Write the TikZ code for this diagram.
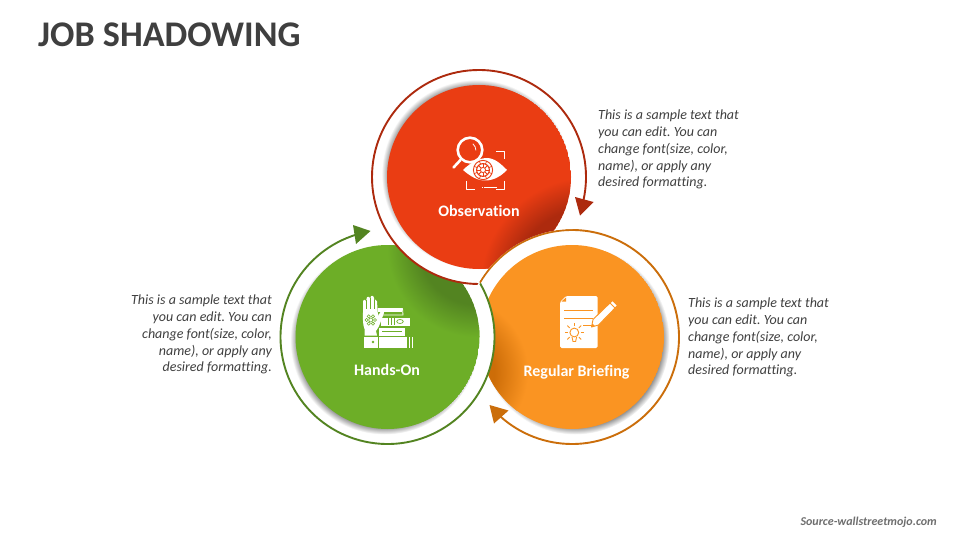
\documentclass[tikz,border=0pt]{standalone}
\usepackage{fontspec}
\usetikzlibrary{calc}
\setmainfont{Carlito}[Ligatures=NoCommon]
\definecolor{redB}{HTML}{EA3D13}\definecolor{redD}{HTML}{AD2A0E}
\definecolor{grnB}{HTML}{6DAE27}\definecolor{grnD}{HTML}{538421}
\definecolor{orgB}{HTML}{FA9422}\definecolor{orgD}{HTML}{CD6D08}
\definecolor{ringO}{HTML}{CB6E0B}
\definecolor{titleC}{HTML}{3F3F3F}\definecolor{bodyC}{HTML}{404040}\definecolor{srcC}{HTML}{6E6E6E}
\pgfdeclareradialshading{redDark}{\pgfpointorigin}{color(0bp)=(redD);color(18bp)=(redD);color(25bp)=(redB);color(50bp)=(redB)}
\pgfdeclareradialshading{grnDark}{\pgfpointorigin}{color(0bp)=(grnD);color(16bp)=(grnD);color(25bp)=(grnB);color(50bp)=(grnB)}
\pgfdeclareradialshading{orgDark}{\pgfpointorigin}{color(0bp)=(orgD);color(14bp)=(orgD);color(25bp)=(orgB);color(50bp)=(orgB)}
\pgfdeclareradialshading{softShadow}{\pgfpointorigin}{color(0bp)=(black!45);color(23bp)=(black!45);color(25bp)=(white);color(50bp)=(white)}
\tikzset{
  body/.style={font=\fontsize{14}{16.7}\selectfont\itshape\frenchspacing,text=bodyC,inner sep=0pt},
  disclabel/.style={font=\fontsize{16}{18}\selectfont\bfseries,text=white,inner sep=0pt},
  ringline/.style={line width=1.9pt},
  wl/.style={draw=white,line cap=round,line join=round},
}
\newcommand{\disc}[7]{%
  \fill[white] (#1) circle (107);
  \shade[shading=softShadow] ($(#1)+(#6,#7)$) circle (94.5);
  \begin{scope}
    \clip (#1) circle (92);
    \fill[#2] (#1) circle (92);
    \shade[shading=#3] (#4) circle (#5);
  \end{scope}
}
\begin{document}
\begin{tikzpicture}[x=1pt,y=-1pt]
\useasboundingbox (0,0) rectangle (960,540);
\fill[white] (0,0) rectangle (960,540);
\coordinate (rc) at (479,177);
\coordinate (gc) at (387.5,337);
\coordinate (oc) at (572,337);
\coordinate (ra1) at (575,197);\coordinate (ra2) at (593.5,202);\coordinate (ra3) at (580,215.5);
\coordinate (ga1) at (353,225);\coordinate (ga2) at (370.5,231);\coordinate (ga3) at (356,244);
\coordinate (oa1) at (489.5,405);\coordinate (oa2) at (508.5,410.5);\coordinate (oa3) at (494,423.5);
% orange
\disc{oc}{orgB}{orgDark}{452,372}{76}{3}{3}
\draw[ringline,draw=ringO] (oc) ++(-150:107) arc[start angle=-150,end angle=132,x radius=107,y radius=107];
\fill[ringO] (oa1)--(oa2)--(oa3)--cycle;
% green
\disc{gc}{grnB}{grnDark}{477,247}{90}{-3}{3}
\draw[ringline,draw=grnD] (gc) ++(-30:107) arc[start angle=-30,end angle=253,x radius=107,y radius=107];
\fill[grnD] (ga1)--(ga2)--(ga3)--cycle;
% red, kept out of the orange ring's disc so that orange lies on top of it
\begin{scope}[even odd rule]
  \clip (0,0) rectangle (960,540) (oc) circle (108);
  \disc{rc}{redB}{redDark}{590,287}{110}{-3}{-3}
  \draw[ringline,draw=redD] (rc) ++(90:107) arc[start angle=90,end angle=372.5,x radius=107,y radius=107];
  \fill[redD] (ra1)--(ra2)--(ra3)--cycle;
\end{scope}
% title etc
\node[anchor=west,inner sep=0pt,text=titleC,font=\fontsize{36.1}{40}\selectfont\bfseries] (title) at (38,35) {JOB SHADOWING};
\node[anchor=east,inner sep=0pt,text=srcC,font=\fontsize{12}{14}\selectfont\bfseries\itshape] (src) at (937,522) {Source-wallstreetmojo.com};
\node[body,anchor=north west,align=left] (t1) at (598,110) {This is a sample text that\\you can edit. You can\\change font(size, color,\\name), or apply any\\desired formatting.};
\node[body,anchor=north east,align=right] (t2) at (272,295) {This is a sample text that\\you can edit. You can\\change font(size, color,\\name), or apply any\\desired formatting.};
\node[body,anchor=north west,align=left] (t3) at (688,298) {This is a sample text that\\you can edit. You can\\change font(size, color,\\name), or apply any\\desired formatting.};
\node[disclabel] (l1) at (479,211) {Observation};
\node[disclabel] (l2) at (387,370) {Hands-On};
\node[disclabel] (l3) at (576.5,372) {Regular Briefing};
% observation icon
\draw[wl,line width=2.6pt] (470,150) circle (12.3);
\draw[wl,line width=.8pt] (473,144) arc[start angle=-50,end angle=0,x radius=8,y radius=8];
\draw[wl,line width=2.6pt] (460.5,160) -- (453.5,167.5);
\fill[white] (463,170) .. controls (472,161) and (481,158) .. (487,158) .. controls (495,158) and (502,165) .. (507,170) .. controls (502,175) and (495,180.5) .. (485,180.5) .. controls (477,180.5) and (470,176) .. (463,170) -- cycle;
\draw[draw=redB,line width=.9pt,fill=white] (483,170) circle (9.6);
\draw[draw=redB,line width=1.1pt] (483,170) circle (6.4);
\draw[draw=redB,line width=.8pt] (483,170) circle (2.6);
\foreach \a in {0,45,...,315}{\draw[draw=redB,line width=.8pt] (483,170) ++(\a:2.6) -- ++(\a:3.8);}
\foreach \a in {22.5,67.5,...,337.5}{\draw[draw=redB,line width=.7pt] (483,170) ++(\a:6.4) -- ++(\a:3.2);}
\draw[wl,line width=.8pt,line cap=butt] (496,151.5) -- (504.5,151.5) -- (504.5,159);
\draw[wl,line width=.8pt,line cap=butt] (466.5,181) -- (466.5,189) -- (475,189);
\draw[wl,line width=.8pt,line cap=butt] (504.5,181) -- (504.5,189) -- (496,189);
\draw[wl,line width=.8pt,line cap=butt] (484,187.5) -- (497,187.5);
\fill[white] (482,187.2) rectangle (483.2,188);
% hands-on icon
\fill[white] (363.5,337) rectangle (378,347.5);
\fill[white] (379,337) rectangle (407,347.5);
\fill[white] (408.5,337) rectangle (410,347.5);
\fill[white] (411.5,337) rectangle (412.5,347.5);
\fill[grnB] (373,342) circle (1.3);
\fill[white] (379,328) rectangle (405,335.5);
\draw[draw=grnB,line width=.6pt] (382,331) -- (402,331);
\fill[white] (381,317.5) rectangle (409.5,325.5);
\draw[draw=grnB,line width=.7pt] (400,321.5) ellipse (3.3 and 2);
\draw[draw=grnB,line width=.7pt] (388,318) -- (388,325) (391,318) -- (391,325) (394,318) -- (394,325);
\draw[wl,line width=.8pt] (378,308.5) -- (402.5,308.5) -- (403,315) -- (378,315) ;
\fill[white] (378,308.5) rectangle (402,312);
\fill[white] (363,302) .. controls (363,299) and (366,299) .. (366,302) -- (366.5,299) .. controls (366.5,296) and (370,296) .. (370,299) -- (370.5,298) .. controls (370.5,295) and (373.5,295) .. (374,298) -- (374,301) .. controls (374,299) and (377,299) .. (377,301.5) -- (378,316) -- (381,311) .. controls (383,309) and (385,312) .. (384,313) .. controls (381,320) and (380,326) .. (376,331) -- (377,335.5) -- (364.5,335.5) -- (364.5,329) .. controls (362.5,324) and (363,318) .. (363,312) -- cycle;
\draw[draw=grnB,line width=.6pt] (370.8,320) circle (2);
\foreach \a in {0,60,...,300}{\draw[draw=grnB,line width=.55pt] (370.8,320) ++(\a:4.2) circle (1.6);}
\draw[draw=grnB,line width=.5pt] (366.3,300) -- (366.3,309) (370.2,298) -- (370.2,309) (374,300) -- (374,309);
% briefing icon
\fill[white,rounded corners=1.5pt] (560,302) -- (566,296) -- (597.7,296) -- (597.7,348) -- (560,348) -- cycle;
\fill[orgB] (561.5,301.5) -- (566,297.5) -- (566,301.5) -- cycle;
\draw[draw=orgB,line width=1pt] (564,310.7) -- (593,310.7) (564,318.7) -- (593,318.7);
\draw[draw=orgB,line width=.9pt] (583,325.5) -- (592,325.5);
\draw[draw=orgB,line width=.9pt] (574.3,332.5) circle (4.4);
\draw[draw=orgB,line width=.9pt] (572,337) -- (573,341.5) -- (575.6,341.5) -- (576.6,337);
\foreach \a in {180,225,270,315,0,135,45}{\draw[draw=orgB,line width=.9pt] (574.3,332.5) ++(\a:6.5) -- ++(\a:3.3);}
\draw[draw=orgB,line width=.9pt,fill=white,line join=round] (591.5,327) -- (593,319.5) -- (612.5,300.5) -- (617.5,305.5) -- (598.5,325) -- cycle;
\draw[draw=orgB,line width=.8pt] (610,303) -- (615,308);
\fill[orgB] (591.5,327) -- (592.2,323.5) -- (595,326) -- cycle;
\end{tikzpicture}
\end{document}
